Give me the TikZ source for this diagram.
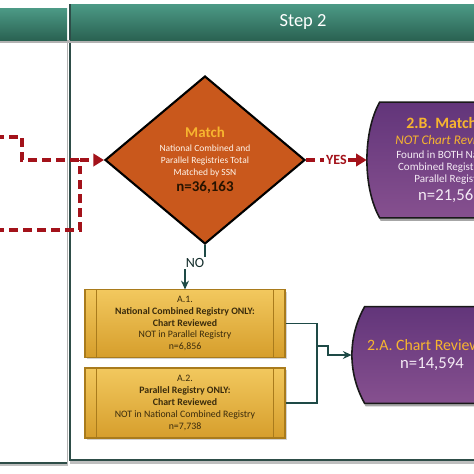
\documentclass[tikz,border=0pt]{standalone}
\usepackage{fontspec}
\setmainfont{Carlito}
\usepackage{xcolor}
\usetikzlibrary{arrows.meta,calc,positioning,shapes.geometric,shadows}
\definecolor{hdtop}{HTML}{4C9A86}
\definecolor{hdbot}{HTML}{2A6252}
\definecolor{paneline}{HTML}{2E4D48}
\definecolor{flowred}{HTML}{A3121A}
\definecolor{matchfill}{HTML}{C9581C}
\definecolor{matchgold}{HTML}{F7B52F}
\definecolor{plum}{HTML}{62357A}
\definecolor{plumlight}{HTML}{86508F}
\definecolor{goldtop}{HTML}{F2C85E}
\definecolor{goldbot}{HTML}{D69E2C}
\definecolor{goldline}{HTML}{A97B1C}
\definecolor{tealink}{HTML}{1E4A46}
\definecolor{inkbrown}{HTML}{3A2B0C}
\newcommand{\fsz}[1]{\fontsize{#1}{#1}\selectfont}

\begin{document}
\begin{tikzpicture}[x=0.02cm,y=-0.02cm,
  redflow/.style={draw=flowred,line width=2.1pt,dash pattern=on 5pt off 3pt},
  tealflow/.style={draw=tealink,line width=0.9pt},
  decision/.style={diamond,draw=black,line width=1.2pt,fill=matchfill,minimum width=4cm,
    minimum height=3.36cm,inner sep=0pt,align=center,text=white!92!orange,
    font=\fontsize{5.4}{6.8}\selectfont},
  registry/.style={draw=goldline,line width=0.6pt,top color=goldtop,bottom color=goldbot,
    minimum width=4cm,align=center,text=inkbrown,font=\fontsize{5.6}{6.8}\selectfont,
    drop shadow={opacity=0.35,shadow xshift=1pt,shadow yshift=-1pt}},
  outcome/.style={inner sep=0pt,align=center,text=white!92!violet,
    font=\fontsize{6.3}{6.8}\selectfont}]
\useasboundingbox (0,0) rectangle (474,474);
\clip (0,0) rectangle (474,474);
\fill[white] (0,0) rectangle (474,474);

% panels
\draw[black!8] (-40,76) rectangle (2,210);
\draw[black!8] (-40,254) rectangle (2,396);
\fill[black!25] (-5,463) rectangle (68,466);
\draw[black!30,fill=white] (-5,40) rectangle (67,463);
\draw[paneline,line width=0.8pt] (-5,463) -- (67,463);
\fill[black!25] (70,460) rectangle (540,464);
\draw[paneline,line width=0.8pt] (70,40) -- (70,460) -- (540,460);
\fill[black!30] (-5,40) rectangle (540,43);
\shade[top color=hdtop,bottom color=hdbot] (-5,8) rectangle (67,40);
\shade[top color=hdtop,bottom color=hdbot] (70,4) rectangle (540,40);
\draw[paneline,line width=0.6pt] (70,4) -- (70,40);
\node[text=white,font=\fsz{10.5}] (step2) at (303,22) {Step 2};

% nodes
\node[decision] (match) at (205,160) {%
  {\fsz{8.5}\bfseries\color{matchgold}Match}\\[1.6pt]
  National Combined and\\
  Parallel Registries Total\\
  Matched by SSN\\[2pt]
  {\fsz{8.5}\bfseries\color{black!85!orange}n=36,163}};

\node[registry,minimum height=1.34cm] (a1) at (185,323.5) {%
  A.1.\\
  \textbf{National Combined Registry ONLY:}\\
  \textbf{Chart Reviewed}\\
  NOT in Parallel Registry\\
  n=6,856};
\node[registry,minimum height=1.4cm] (a2) at (185,403) {%
  A.2.\\
  \textbf{Parallel Registry ONLY:}\\
  \textbf{Chart Reviewed}\\
  NOT in National Combined Registry\\
  n=7,738};
\foreach \b in {a1,a2} {
  \draw[goldline,line width=0.6pt] ($(\b.north west)+(12,0)$) -- ($(\b.south west)+(12,0)$);
  \draw[goldline,line width=0.6pt] ($(\b.north east)+(-12,0)$) -- ($(\b.south east)+(-12,0)$);
}

\node[outcome,minimum width=3.32cm,minimum height=2.3cm] (matched) at (450,160) {};
\node[outcome,minimum width=3.2cm,minimum height=1.92cm] (chart) at (432,355) {};
\foreach \b in {matched,chart} {
  \fill[black!35] ($(\b.north west)+(14,3)$) .. controls +(-17,30) and +(-17,-30) .. ($(\b.south west)+(14,3)$)
    -- ($(\b.south east)+(2,3)$) -- ($(\b.north east)+(2,3)$) -- cycle;
  \path[draw=black!90,line width=0.9pt,top color=plum,bottom color=plumlight]
    ($(\b.north west)+(13,0)$) .. controls +(-17,30) and +(-17,-30) .. ($(\b.south west)+(13,0)$)
    -- (\b.south east) -- (\b.north east) -- cycle;
}
\node[outcome] (matchedtxt) at (matched.center) {%
  {\fsz{9}\bfseries\color{matchgold}2.B. Matched}\\[2pt]
  {\fsz{7.5}\itshape\color{matchgold}NOT Chart Reviewed}\\[1.6pt]
  Found in BOTH National\\
  Combined Registry and\\
  Parallel Registry\\[1.6pt]
  {\fsz{9.5}n=21,569}};
\node[outcome] (charttxt) at (chart.center) {%
  {\fsz{9}\color{matchgold}2.A. Chart Reviewed}\\[3pt]
  {\fsz{9.5}n=14,594}};

% connectors
\coordinate (inA) at (-5,137);
\coordinate (inB) at (-5,230);
\coordinate (jA) at (22,160);
\coordinate (jB) at (80,160);
\draw[redflow] (inA) -| (jA) -- (jB);
\draw[redflow] (inB) -| (jB);
\draw[redflow,-{Triangle[length=6pt,width=7pt]}] (jB) -- (match.west);
\draw[redflow,-{Triangle[length=6pt,width=7pt]}]
  (match.east) -- node[fill=white,inner sep=1pt,text=flowred,font=\fsz{8}\bfseries]{YES} (matched.west);

\coordinate (nojog) at (205,263);
\draw[tealflow,-{Stealth[length=5pt,width=4.5pt]}] (match.south) -- (nojog) -| node[pos=0.25,fill=white,inner sep=1pt,text=tealink!60!black,font=\fsz{8}]{NO} (a1.north);

\coordinate (merge) at (317,346);
\coordinate (jog) at (328,346);
\draw[tealflow] (a1.east) -| (merge);
\draw[tealflow] (a2.east) -| (merge);
\draw[tealflow,-{Stealth[length=5pt,width=4.5pt]}] (merge) -- (jog) |- (chart.west);
\end{tikzpicture}
\end{document}
